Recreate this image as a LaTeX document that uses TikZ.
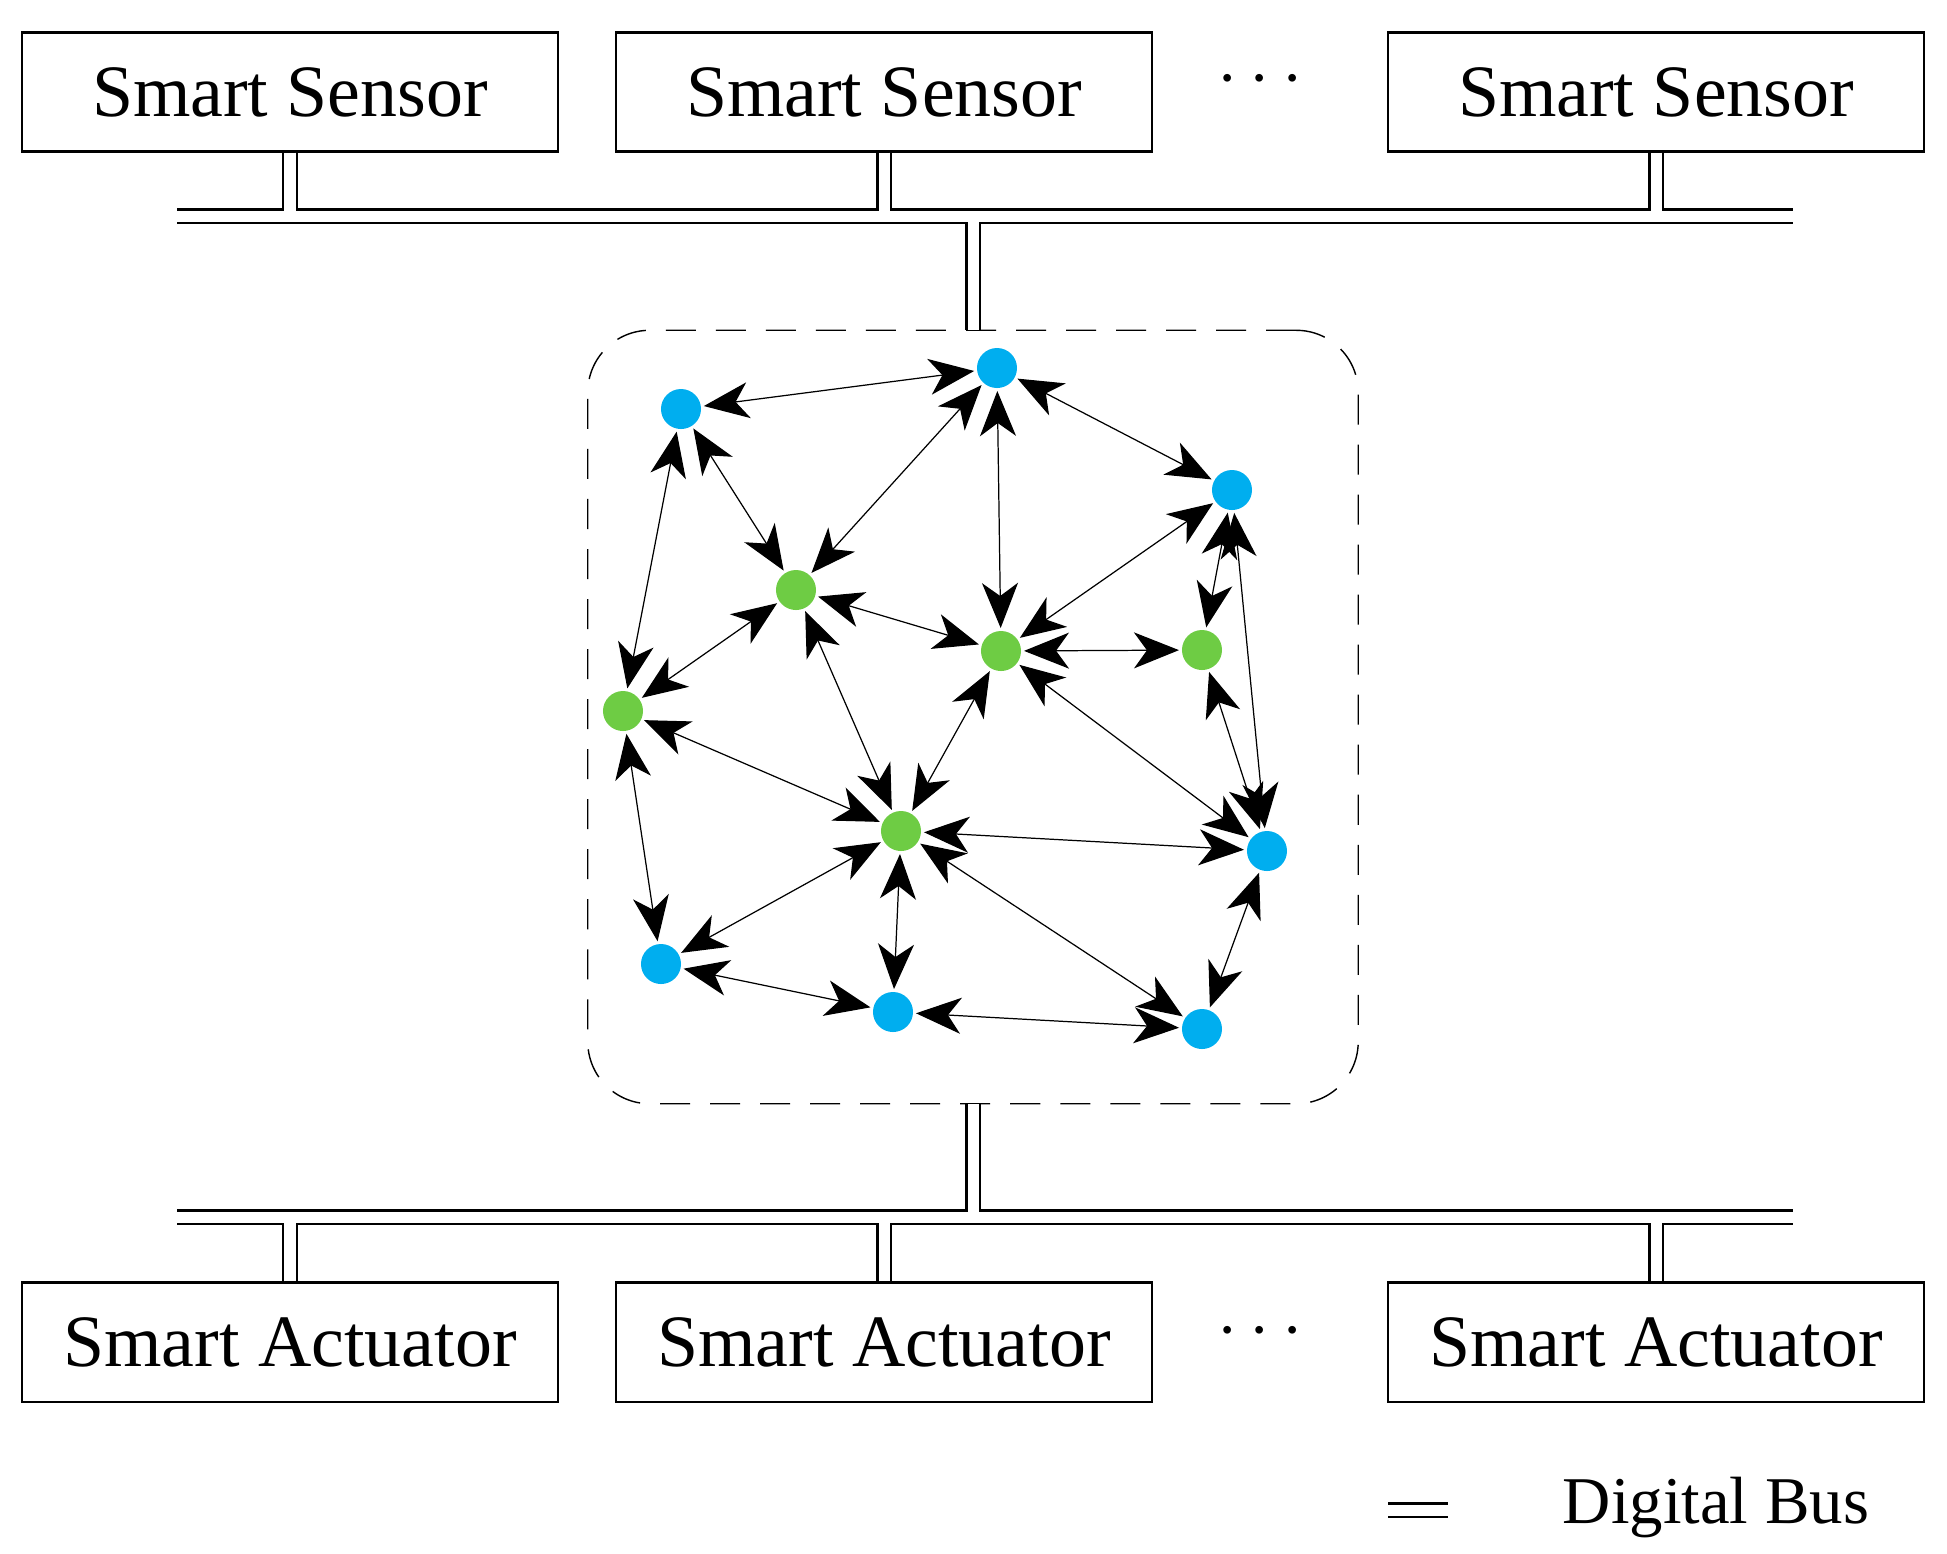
\documentclass[tikz,border=0pt]{standalone}
\usepackage{fontspec}
\setmainfont{Liberation Serif}
\usetikzlibrary{arrows.meta, positioning}

\tikzset{
  box/.style = {draw, line width=0.6pt, minimum width=5.36cm, minimum height=1.19cm, font=\fontsize{21}{24}\selectfont},
  bus/.style = {draw, line width=0.6pt, double, double distance=0.11cm, line cap=butt},
  buscore/.style = {draw=white, line width=0.11cm},
  blue node/.style = {circle, fill={rgb,255:red,0;green,174;blue,239}, minimum size=0.4cm, inner sep=0pt, outer sep=0.03cm},
  green node/.style = {circle, fill={rgb,255:red,110;green,204;blue,68}, minimum size=0.4cm, inner sep=0pt, outer sep=0.03cm},
  link/.style = {line width=0.35pt, {Stealth[length=0.45cm, width=0.36cm, inset=0.13cm]}-{Stealth[length=0.45cm, width=0.36cm, inset=0.13cm]}}
}

\begin{document}
\begin{tikzpicture}[x=0.01cm, y=-0.01cm]
		\useasboundingbox (0,0) rectangle (1947,1553);
		% sensors and actuators
		\node[box] (sensorA) at (290,92) {Smart Sensor};
		\node[box] (sensorB) at (884,92) {Smart Sensor};
		\node[box] (sensorC) at (1656,92) {Smart Sensor};
		\node[font=\fontsize{21}{24}\selectfont] (dotsTop) at (1260,80) {$\cdots$};
		\node[box] (actA) at (290,1342) {Smart Actuator};
		\node[box] (actB) at (884,1342) {Smart Actuator};
		\node[box] (actC) at (1656,1342) {Smart Actuator};
		\node[font=\fontsize{21}{24}\selectfont] (dotsBot) at (1260,1332) {$\cdots$};
		
		% network
		\node[draw, dashed, dash pattern=on 0.3cm off 0.2cm, line width=0.4pt, rounded corners=0.62cm, minimum width=7.7cm, minimum height=7.73cm] (net) at (973,717) {};
		
		\coordinate (topL) at (177,216);
		\coordinate (topR) at (1793,216);
		\coordinate (botL) at (177,1217);
		\coordinate (botR) at (1793,1217);
		\coordinate (topC) at (973,216);
		\coordinate (botC) at (973,1217);
		
		% digital buses
		\draw[bus] (topL) -- (topR);
		\draw[bus] (botL) -- (botR);
		\foreach \s in {sensorA, sensorB, sensorC}
			\draw[bus] (\s.south) -- (\s.south |- topL);
		\foreach \a in {actA, actB, actC}
			\draw[bus] (\a.north) -- (\a.north |- botL);
		\draw[bus] (net.north) -- (topC);
		\draw[bus] (net.south) -- (botC);
		\draw[buscore] (topL) -- (topR);
		\draw[buscore] (botL) -- (botR);
		
		\node[blue node] (b1) at (681,409) {};
		\node[blue node] (b2) at (997,368) {};
		\node[blue node] (b3) at (1232,490) {};
		\node[green node] (g1) at (796,590) {};
		\node[green node] (g2) at (1001,651) {};
		\node[green node] (g3) at (1202,650) {};
		\node[green node] (g4) at (623,711) {};
		\node[green node] (g5) at (901,831) {};
		\node[blue node] (b4) at (1267,851) {};
		\node[blue node] (b5) at (661,964) {};
		\node[blue node] (b6) at (893,1012) {};
		\node[blue node] (b7) at (1202,1029) {};
		
		\path[link]
		(b1) edge (b2)
		(b1) edge (g1)
		(b1) edge (g4)
		(b2) edge (g1)
		(b2) edge (g2)
		(b2) edge (b3)
		(b3) edge (g2)
		(b3) edge (g3)
		(b3) edge (b4)
		(g1) edge (g2)
		(g1) edge (g4)
		(g1) edge (g5)
		(g2) edge (g3)
		(g2) edge (g5)
		(g2) edge (b4)
		(g3) edge (b4)
		(g4) edge (g5)
		(g4) edge (b5)
		(g5) edge (b5)
		(g5) edge (b6)
		(g5) edge (b4)
		(g5) edge (b7)
		(b5) edge (b6)
		(b6) edge (b7)
		(b4) edge (b7)
		;
		
		% legend
		\coordinate (legL) at (1388,1510);
		\coordinate (legR) at (1448,1510);
		\draw[bus] (legL) -- (legR);
		\node[font=\fontsize{19}{22}\selectfont] (legText) at (1716,1508) {Digital Bus};
\end{tikzpicture}
\end{document}
